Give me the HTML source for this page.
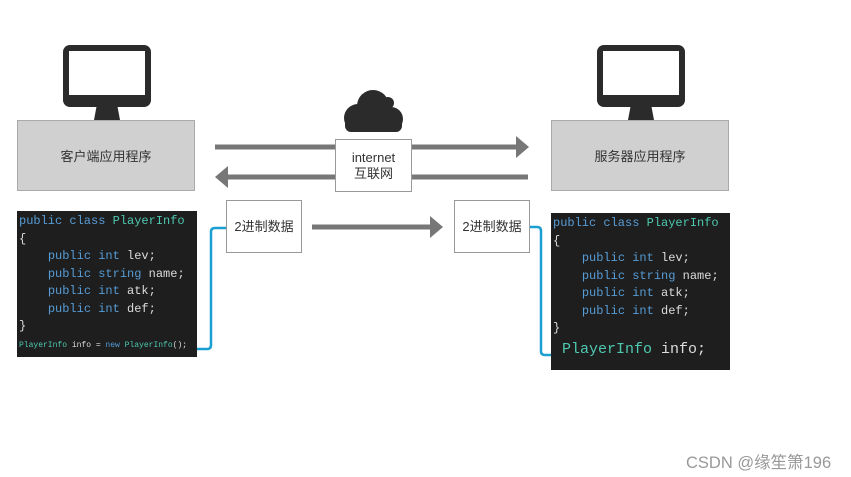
<!DOCTYPE html>
<html><head><meta charset="utf-8"><style>
body{margin:0;width:851px;height:477px;background:#fff;position:relative;overflow:hidden;font-family:"Liberation Sans","Noto Sans CJK SC",sans-serif}
.box{position:absolute;background:#d0d0d0;border:1px solid #aaa;display:flex;align-items:center;justify-content:center;font-size:13px;color:#333}
.wb{position:absolute;background:#fff;border:1px solid #999;display:flex;align-items:center;justify-content:center;font-size:13px;color:#333;flex-direction:column;line-height:16px}
.code{position:absolute;background:#1e1e1e;font-family:"Liberation Mono",monospace;font-size:12px;line-height:17.5px;color:#dcdcdc;white-space:pre;padding:2px 0 0 2px;box-sizing:border-box}
.k{color:#569cd6}.t{color:#4ec9b0}
</style></head><body>
<svg width="851" height="477" style="position:absolute;left:0;top:0">
<g fill="#2b2b2b">
<rect x="63" y="45" width="88" height="62" rx="7"/><path d="M97,104 H117 L120,120 H94 Z"/>
<rect x="597" y="45" width="88" height="62" rx="7"/><path d="M631,104 H651 L654,120 H628 Z"/>
</g>
<rect x="69" y="51" width="76" height="44" fill="#fff"/>
<rect x="603" y="51" width="76" height="44" fill="#fff"/>
<g fill="#2b2b2b"><circle cx="358" cy="118" r="14"/><circle cx="373" cy="106" r="16"/><circle cx="388" cy="103" r="6"/><circle cx="391" cy="119" r="12"/><rect x="345" y="115" width="57" height="17" rx="6"/></g>
<g stroke="#777" stroke-width="5" fill="#777">
<line x1="215" y1="147" x2="518" y2="147"/><line x1="228" y1="177" x2="528" y2="177"/>
<line x1="312" y1="227" x2="432" y2="227"/></g>
<g fill="#777"><polygon points="516,136 529,147 516,158"/><polygon points="228,166 215,177 228,188"/><polygon points="430,216 443,227 430,238"/></g>
<g stroke="#1a9fd0" stroke-width="2.5" fill="none">
<path d="M197,349 H207 Q211,349 211,345 V232 Q211,228 215,228 H226"/>
<path d="M529,227 H537 Q541,227 541,231 V351 Q541,355 545,355 H551"/></g>
</svg>
<div class="box" style="left:17px;top:120px;width:176px;height:69px">客户端应用程序</div>
<div class="box" style="left:551px;top:120px;width:176px;height:69px">服务器应用程序</div>
<div class="wb" style="left:335px;top:139px;width:75px;height:51px"><span>internet</span><span>互联网</span></div>
<div class="wb" style="left:226px;top:200px;width:74px;height:51px">2进制数据</div>
<div class="wb" style="left:454px;top:200px;width:74px;height:51px">2进制数据</div>
<div class="code" style="left:17px;top:211px;width:180px;height:146px"><span class="k">public class</span> <span class="t">PlayerInfo</span>
{
    <span class="k">public int</span> lev;
    <span class="k">public string</span> name;
    <span class="k">public int</span> atk;
    <span class="k">public int</span> def;
}
<span style="font-size:8px"><span class="t">PlayerInfo</span> info = <span class="k">new</span> <span class="t">PlayerInfo</span>();</span></div>
<div class="code" style="left:551px;top:213px;width:179px;height:157px"><span class="k">public class</span> <span class="t">PlayerInfo</span>
{
    <span class="k">public int</span> lev;
    <span class="k">public string</span> name;
    <span class="k">public int</span> atk;
    <span class="k">public int</span> def;
}
<span style="font-size:15px;line-height:24px"> <span class="t">PlayerInfo</span> info;</span></div>
<div style="position:absolute;left:686px;top:449px;font-size:16.5px;color:#999">CSDN @缘笙箫196</div>
</body></html>
